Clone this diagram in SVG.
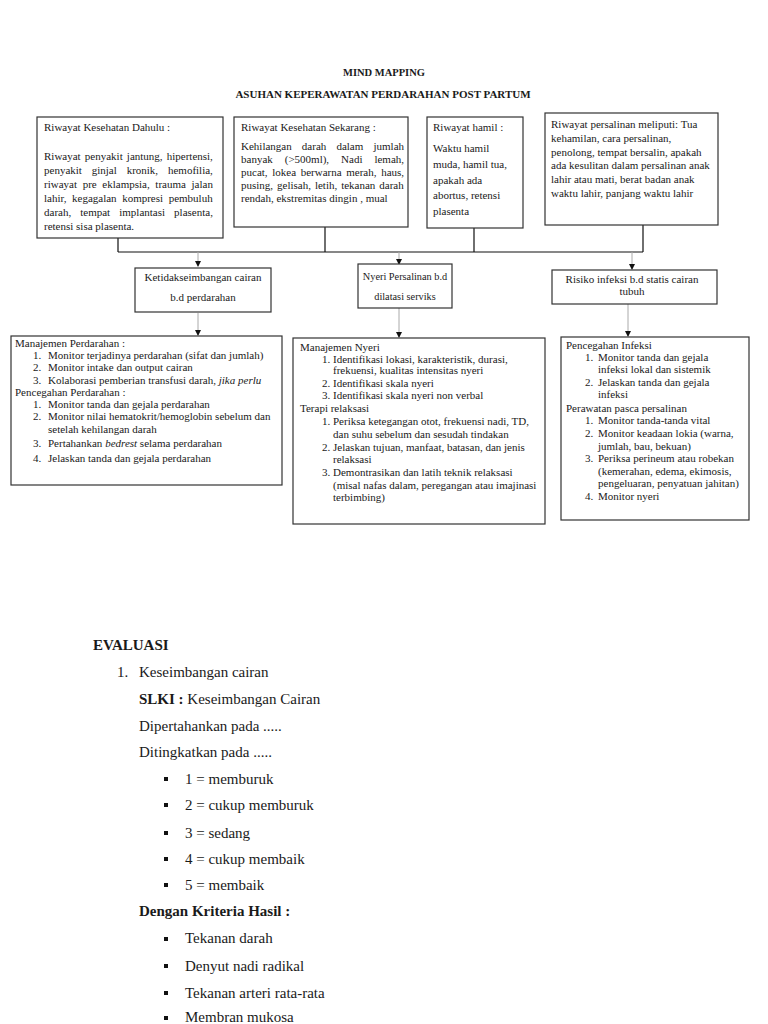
<svg xmlns="http://www.w3.org/2000/svg" width="768" height="1024" viewBox="0 0 768 1024">
<style>
text{font-family:"Liberation Serif","Times New Roman",serif;fill:#1a1a1a}
.t{font-size:11px}
.s{font-size:11px}
.e{font-size:15px}
.b{font-weight:bold}
.box{fill:#fff;stroke:#333;stroke-width:1.2}
.ln{stroke:#111;stroke-width:1.2;fill:none}
.gl{stroke:#aaa;stroke-width:1;fill:none}
.c{text-anchor:middle}
</style>
<defs>
<marker id="ah" markerWidth="6" markerHeight="6" refX="5" refY="3" orient="auto" markerUnits="userSpaceOnUse">
<path d="M0,0 L6,3 L0,6 Z" fill="#111"/>
</marker>
</defs>
<rect width="768" height="1024" fill="#fff"/>
<g id="title">
<text x="384" y="76" class="c b" style="font-size:10.5px">MIND MAPPING</text>
<text x="383" y="98" class="c b" style="font-size:11px">ASUHAN KEPERAWATAN PERDARAHAN POST PARTUM</text>
</g>
<g id="connectors">
<path class="ln" d="M118,238 V252 M325,227 V252 M474,228 V252 M643,225 V252 M118,252 H643"/>
<path class="gl" d="M198,252 V266" marker-end="url(#ah)"/>
<path class="gl" d="M399,252 V264" marker-end="url(#ah)"/>
<path class="gl" d="M632,252 V269" marker-end="url(#ah)"/>
<path class="gl" d="M198,313 V335" marker-end="url(#ah)"/>
<path class="gl" d="M399,308 V337" marker-end="url(#ah)"/>
<path class="gl" d="M628,304 V336" marker-end="url(#ah)"/>
</g>
<g id="riwayat-dahulu">
<rect class="box" x="37" y="117" width="186" height="121"/>
<text class="t" x="44" y="131">Riwayat Kesehatan Dahulu :</text>
<text class="t" x="44" y="160" word-spacing="1.4">Riwayat penyakit jantung, hipertensi,</text>
<text class="t" x="44" y="174" word-spacing="7.1">penyakit ginjal kronik, hemofilia,</text>
<text class="t" x="44" y="188" word-spacing="2.9">riwayat pre eklampsia, trauma jalan</text>
<text class="t" x="44" y="202" word-spacing="2.8">lahir, kegagalan kompresi pembuluh</text>
<text class="t" x="44" y="216" word-spacing="6.3">darah, tempat implantasi plasenta,</text>
<text class="t" x="44" y="230">retensi sisa plasenta.</text>
</g>
<g id="riwayat-sekarang">
<rect class="box" x="234" y="117" width="174" height="110"/>
<text class="t" x="241" y="131">Riwayat Kesehatan Sekarang :</text>
<text class="t" x="241" y="150" word-spacing="7.4">Kehilangan darah dalam jumlah</text>
<text class="t" x="241" y="163" word-spacing="9.2">banyak (&gt;500ml), Nadi lemah,</text>
<text class="t" x="241" y="176" word-spacing="1.9">pucat, lokea berwarna merah, haus,</text>
<text class="t" x="241" y="189" word-spacing="1.2">pusing, gelisah, letih, tekanan darah</text>
<text class="t" x="241" y="202">rendah, ekstremitas dingin , mual</text>
</g>
<g id="riwayat-hamil">
<rect class="box" x="427" y="117" width="96" height="111"/>
<text class="t" x="433" y="131">Riwayat hamil :</text>
<text class="t" x="433" y="152">Waktu hamil</text>
<text class="t" x="433" y="168">muda, hamil tua,</text>
<text class="t" x="433" y="184">apakah ada</text>
<text class="t" x="433" y="199">abortus, retensi</text>
<text class="t" x="433" y="215">plasenta</text>
</g>
<g id="riwayat-persalinan">
<rect class="box" x="545" y="113" width="173" height="112"/>
<text class="t" x="551" y="128">Riwayat persalinan meliputi: Tua</text>
<text class="t" x="551" y="142">kehamilan, cara persalinan,</text>
<text class="t" x="551" y="156">penolong, tempat bersalin, apakah</text>
<text class="t" x="551" y="169">ada kesulitan dalam persalinan anak</text>
<text class="t" x="551" y="183">lahir atau mati, berat badan anak</text>
<text class="t" x="551" y="197">waktu lahir, panjang waktu lahir</text>
</g>
<g id="dx-cairan">
<rect class="box" x="135" y="268" width="136" height="44"/>
<text class="s c" x="203" y="281">Ketidakseimbangan cairan</text>
<text class="s c" x="203" y="301">b.d perdarahan</text>
</g>
<g id="dx-nyeri">
<rect class="box" x="358" y="264" width="94" height="44"/>
<text class="c" style="font-size:10.3px" x="405" y="280">Nyeri Persalinan b.d</text>
<text class="c" style="font-size:10.3px" x="405" y="300">dilatasi serviks</text>
</g>
<g id="dx-infeksi">
<rect class="box" x="552" y="270" width="165" height="34"/>
<text class="s c" x="632" y="283">Risiko infeksi b.d statis cairan</text>
<text class="s c" x="632" y="295">tubuh</text>
</g>
<g id="int-cairan">
<rect class="box" x="11" y="336" width="271" height="149"/>
<text class="s" x="15" y="347">Manajemen Perdarahan :</text>
<text class="s" x="33" y="359">1.</text><text class="s" x="48" y="359">Monitor terjadinya perdarahan (sifat dan jumlah)</text>
<text class="s" x="33" y="371">2.</text><text class="s" x="48" y="371">Monitor intake dan output cairan</text>
<text class="s" x="33" y="384">3.</text><text class="s" x="48" y="384">Kolaborasi pemberian transfusi darah, <tspan font-style="italic">jika perlu</tspan></text>
<text class="s" x="15" y="396">Pencegahan Perdarahan :</text>
<text class="s" x="33" y="408">1.</text><text class="s" x="48" y="408">Monitor tanda dan gejala perdarahan</text>
<text class="s" x="33" y="420">2.</text><text class="s" x="48" y="420">Monitor nilai hematokrit/hemoglobin sebelum dan</text>
<text class="s" x="48" y="433">setelah kehilangan darah</text>
<text class="s" x="33" y="447">3.</text><text class="s" x="48" y="447">Pertahankan <tspan font-style="italic">bedrest</tspan> selama perdarahan</text>
<text class="s" x="33" y="462">4.</text><text class="s" x="48" y="462">Jelaskan tanda dan gejala perdarahan</text>
</g>
<g id="int-nyeri">
<rect class="box" x="293" y="338" width="252" height="186"/>
<text class="s" x="300" y="351">Manajemen Nyeri</text>
<text class="s" x="322" y="363">1.</text><text class="s" x="333" y="363">Identifikasi lokasi, karakteristik, durasi,</text>
<text class="s" x="333" y="374">frekuensi, kualitas intensitas nyeri</text>
<text class="s" x="322" y="387">2.</text><text class="s" x="333" y="387">Identifikasi skala nyeri</text>
<text class="s" x="322" y="399">3.</text><text class="s" x="333" y="399">Identifikasi skala nyeri non verbal</text>
<text class="s" x="300" y="412">Terapi relaksasi</text>
<text class="s" x="322" y="425">1.</text><text class="s" x="333" y="425">Periksa ketegangan otot, frekuensi nadi, TD,</text>
<text class="s" x="333" y="438">dan suhu sebelum dan sesudah tindakan</text>
<text class="s" x="322" y="451">2.</text><text class="s" x="333" y="451">Jelaskan tujuan, manfaat, batasan, dan jenis</text>
<text class="s" x="333" y="463">relaksasi</text>
<text class="s" x="322" y="476">3.</text><text class="s" x="333" y="476">Demontrasikan dan  latih teknik relaksasi</text>
<text class="s" x="333" y="489">(misal nafas dalam, peregangan atau imajinasi</text>
<text class="s" x="333" y="501">terbimbing)</text>
</g>
<g id="int-infeksi">
<rect class="box" x="561" y="337" width="188" height="183"/>
<text class="s" x="566" y="349">Pencegahan Infeksi</text>
<text class="s" x="585" y="361">1.</text><text class="s" x="598" y="361">Monitor tanda dan gejala</text>
<text class="s" x="598" y="373">infeksi lokal dan sistemik</text>
<text class="s" x="585" y="386">2.</text><text class="s" x="598" y="386">Jelaskan tanda dan gejala</text>
<text class="s" x="598" y="398">infeksi</text>
<text class="s" x="566" y="412">Perawatan pasca persalinan</text>
<text class="s" x="585" y="424">1.</text><text class="s" x="598" y="424">Monitor tanda-tanda vital</text>
<text class="s" x="585" y="437">2.</text><text class="s" x="598" y="437">Monitor keadaan lokia (warna,</text>
<text class="s" x="598" y="450">jumlah, bau, bekuan)</text>
<text class="s" x="585" y="462">3.</text><text class="s" x="598" y="462">Periksa perineum atau  robekan</text>
<text class="s" x="598" y="475">(kemerahan, edema, ekimosis,</text>
<text class="s" x="598" y="487">pengeluaran, penyatuan jahitan)</text>
<text class="s" x="585" y="500">4.</text><text class="s" x="598" y="500">Monitor nyeri</text>
</g>
<g id="evaluasi">
<text class="e b" x="93" y="650">EVALUASI</text>
<text class="e" x="117" y="677">1.</text>
<text class="e" x="139" y="677">Keseimbangan cairan</text>
<text class="e" x="139" y="704"><tspan font-weight="bold">SLKI :</tspan> Keseimbangan Cairan</text>
<text class="e" x="139" y="731">Dipertahankan pada .....</text>
<text class="e" x="139" y="757">Ditingkatkan pada .....</text>
<g fill="#111">
<rect x="164" y="777" width="4" height="4"/>
<rect x="164" y="803" width="4" height="4"/>
<rect x="164" y="831" width="4" height="4"/>
<rect x="164" y="857" width="4" height="4"/>
<rect x="164" y="883" width="4" height="4"/>
<rect x="164" y="937" width="4" height="4"/>
<rect x="164" y="964" width="4" height="4"/>
<rect x="164" y="991" width="4" height="4"/>
<rect x="164" y="1016" width="4" height="4"/>
</g>
<text class="e" x="185" y="784">1 = memburuk</text>
<text class="e" x="185" y="810">2 = cukup memburuk</text>
<text class="e" x="185" y="838">3 = sedang</text>
<text class="e" x="185" y="864">4 = cukup membaik</text>
<text class="e" x="185" y="890">5 = membaik</text>
<text class="e b" x="139" y="916">Dengan Kriteria Hasil :</text>
<text class="e" x="185" y="943">Tekanan darah</text>
<text class="e" x="185" y="971">Denyut nadi radikal</text>
<text class="e" x="185" y="998">Tekanan arteri rata-rata</text>
<text class="e" x="185" y="1022">Membran mukosa</text>
</g>
</svg>
